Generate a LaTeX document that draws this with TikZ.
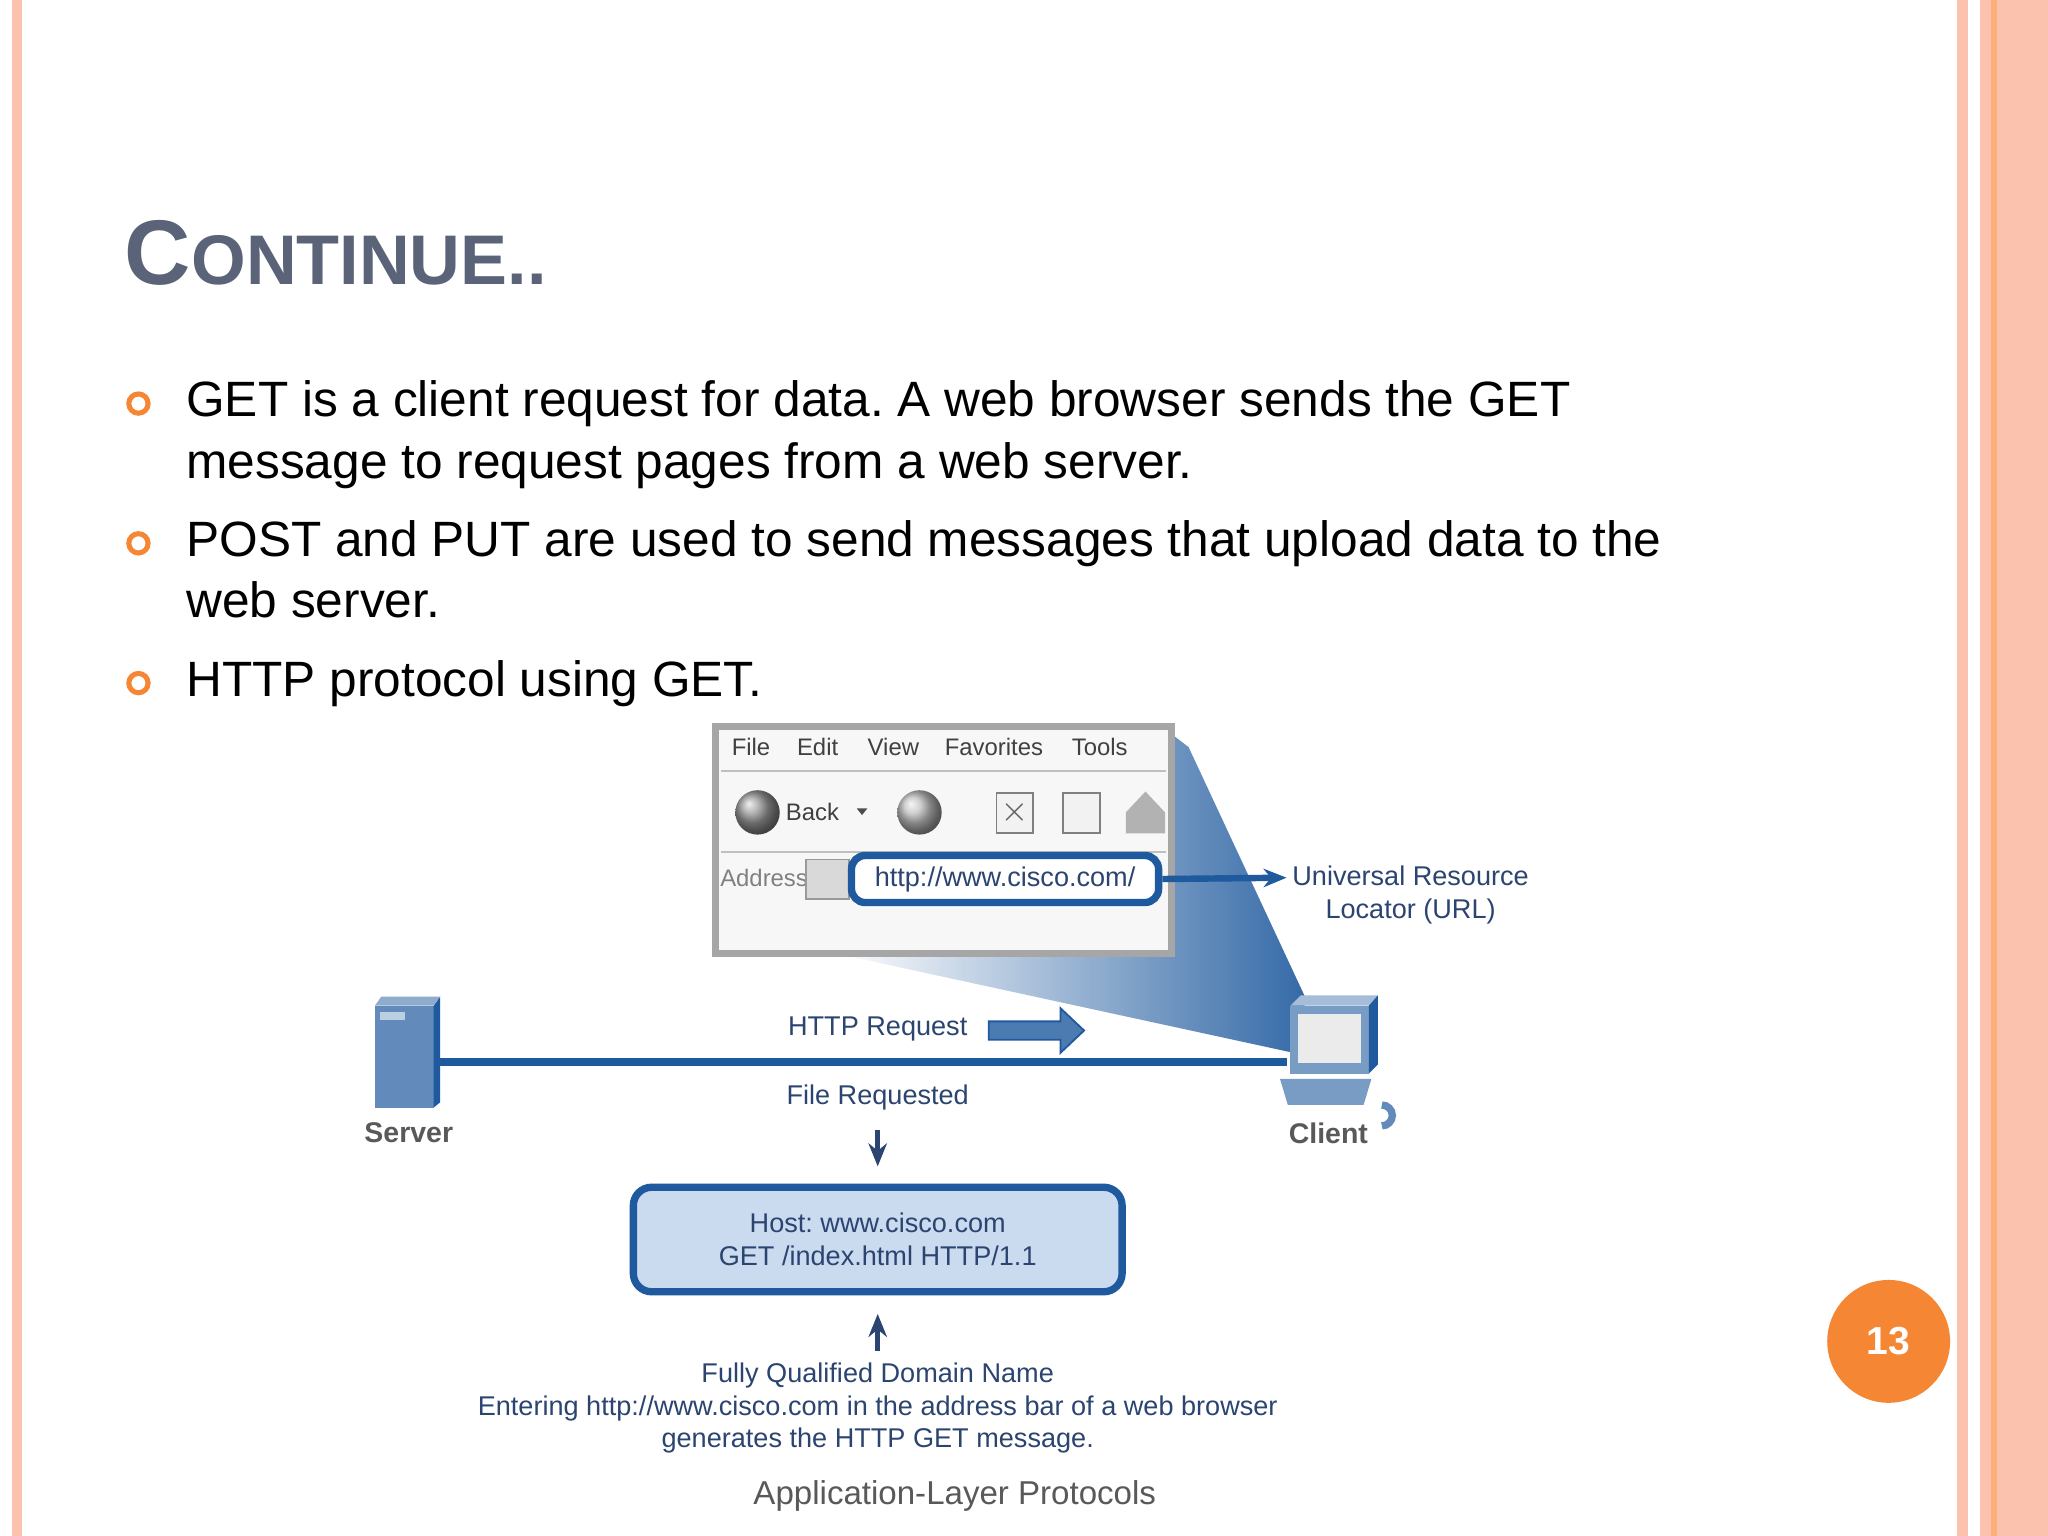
\documentclass[tikz,border=0pt]{standalone}
\usepackage{fontspec}
\setmainfont{Liberation Sans}
\usetikzlibrary{arrows.meta}
\frenchspacing
\definecolor{salmon}{HTML}{FBC3AE}
\definecolor{titlec}{HTML}{5A6378}
\definecolor{orng}{HTML}{F58634}
\definecolor{dblue}{HTML}{1F5A9E}
\definecolor{tblue}{HTML}{2B4470}
\definecolor{boxfill}{HTML}{CADAEF}
\tikzset{
  bul/.style={circle,draw=orng,line width=1.1pt,minimum size=4.2pt,inner sep=0pt},
  btxt/.style={anchor=base west,font=\fontsize{10.8}{13}\selectfont,inner sep=0pt},
  dtxt/.style={font=\fontsize{5.9}{7.1}\selectfont,text=tblue,align=center,inner sep=0pt},
  mtxt/.style={font=\fontsize{5.2}{6}\selectfont,text=black!75,inner sep=0pt},
  blink/.style={draw=dblue,line width=1.6pt},
  arr/.style={-{Stealth[length=5pt,width=4pt]},draw=tblue,line width=1pt}
}
\begin{document}
\begin{tikzpicture}[x=0.01cm,y=-0.01cm]
\useasboundingbox (0,0) rectangle (1568,1176);
\fill[white] (0,0) rectangle (1568,1176);
% borders
\fill[salmon] (9,0) rectangle (17,1176);
\fill[salmon] (1498,0) rectangle (1507,1176);
\fill[salmon] (1516,0) rectangle (1568,1176);
\fill[salmon!70!orange] (1524,0) rectangle (1529,1176);
% title
\node[anchor=base west,inner sep=0pt,text=titlec,font=\bfseries] (title) at (95,218)
  {{\fontsize{20}{24}\selectfont C}{\fontsize{15.3}{20}\selectfont ONTINUE..}};
% bullets
\node[bul] (b1) at (106,309) {};
\node[bul] (b2) at (106,416) {};
\node[bul] (b3) at (106,523) {};
\node[btxt] (t1) at (142,319) {GET is a client request for data. A web browser sends the GET};
\node[btxt] (t1b) at (142,366) {message to request pages from a web server.};
\node[btxt] (t2) at (142,426) {POST and PUT are used to send messages that upload data to the};
\node[btxt] (t2b) at (142,473) {web server.};
\node[btxt] (t3) at (142,533) {HTTP protocol using GET.};
% beam
\shade[left color=white, right color=dblue, opacity=0.9]
  (640,730) -- (897,730) -- (897,562) -- (910,572) -- (1000,765) -- (990,806) -- cycle;
% browser
\draw[draw=black!35,line width=1.5pt,fill=black!3] (548,556) rectangle (897,730);
\draw[black!25] (552,590) -- (893,590);
\draw[black!25] (552,652) -- (893,652);
\node[mtxt] (m1) at (575,572) {File};
\node[mtxt] (m2) at (626,572) {Edit};
\node[mtxt] (m3) at (684,572) {View};
\node[mtxt] (m4) at (761,572) {Favorites};
\node[mtxt] (m5) at (842,572) {Tools};
\shade[ball color=black!40] (580,622) circle (17);
\node[mtxt] (back) at (622,622) {Back};
\fill[black!70] (656,619) -- (664,619) -- (660,624) -- cycle;
\shade[ball color=black!25] (704,622) circle (17);
\draw[black!50,fill=black!5] (763,607) rectangle (791,638);
\node[font=\fontsize{7}{7}\selectfont,text=black!60] (x) at (777,622) {$\times$};
\draw[black!50,fill=black!5] (814,607) rectangle (842,638);
\fill[black!30] (862,622) -- (877,606) -- (892,622) -- (892,638) -- (862,638) -- cycle;
\node[mtxt,text=black!50] (addr) at (585,672) {Address};
\draw[black!40,fill=black!15] (617,658) rectangle (650,688);
\node[draw=dblue,line width=1.6pt,rounded corners=3pt,fill=white,minimum width=2.35cm,
  minimum height=0.36cm,inner sep=0pt,dtxt] (url) at (769.5,673) {http://www.cisco.com/};
\node[dtxt] (urllab) at (1080,685) {Universal Resource\\Locator (URL)};
\draw[arr,draw=dblue,line width=1.4pt] (url.east) -- (985,672);
% main line
\coordinate (sl) at (337,813);
\coordinate (cl) at (985,813);
\draw[blink] (sl) -- (cl);
% server
\fill[dblue!70] (287,770) rectangle (332,848);
\fill[dblue] (332,770) -- (337,763) -- (337,844) -- (332,848) -- cycle;
\fill[dblue!50] (287,770) -- (292,763) -- (337,763) -- (332,770) -- cycle;
\fill[white!70!dblue] (291,775) rectangle (310,781);
\node[dtxt,font=\fontsize{6.2}{8}\selectfont\bfseries,text=black!65] (server) at (313,867) {Server};
% client
\fill[dblue!60] (988,770) rectangle (1048,822);
\fill[dblue!40] (988,770) -- (996,762) -- (1055,762) -- (1048,770) -- cycle;
\fill[dblue] (1048,770) -- (1055,762) -- (1055,815) -- (1048,822) -- cycle;
\fill[black!8] (994,776) rectangle (1042,814);
\fill[dblue!60] (980,826) -- (1050,826) -- (1044,846) -- (986,846) -- cycle;
\draw[dblue!70,line width=1.6pt] (1058,846) arc (-90:90:8);
\node[dtxt,font=\fontsize{6.2}{8}\selectfont\bfseries,text=black!65] (client) at (1017,868) {Client};
% HTTP request
\node[dtxt] (req) at (672,788) {HTTP Request};
\fill[dblue!80,draw=dblue] (757,782) -- (812,782) -- (812,772) -- (830,789) -- (812,806) -- (812,796) -- (757,796) -- cycle;
\node[dtxt] (filereq) at (672,840) {File Requested};
\node[draw=dblue,line width=1.6pt,fill=boxfill,rounded corners=4pt,minimum width=3.74cm,
  minimum height=0.8cm,dtxt] (hostbox) at (672,949) {Host: www.cisco.com\\GET /index.html HTTP/1.1};
\draw[arr] (672,865) -- (672,893);
\node[dtxt] (fqdn) at (672,1078) {Fully Qualified Domain Name\\Entering http://www.cisco.com in the address bar of a web browser\\generates the HTTP GET message.};
\draw[arr] (672,1034) -- (672,1006);
% footer
\node[font=\fontsize{7.2}{9}\selectfont,text=black!65,inner sep=0pt] (foot) at (731,1145) {Application-Layer Protocols};
% page number
\node[circle,fill=orng,minimum size=0.94cm,inner sep=0pt,text=white,font=\fontsize{8.5}{10}\selectfont\bfseries] (pg) at (1446,1027) {13};
\end{tikzpicture}
\end{document}
